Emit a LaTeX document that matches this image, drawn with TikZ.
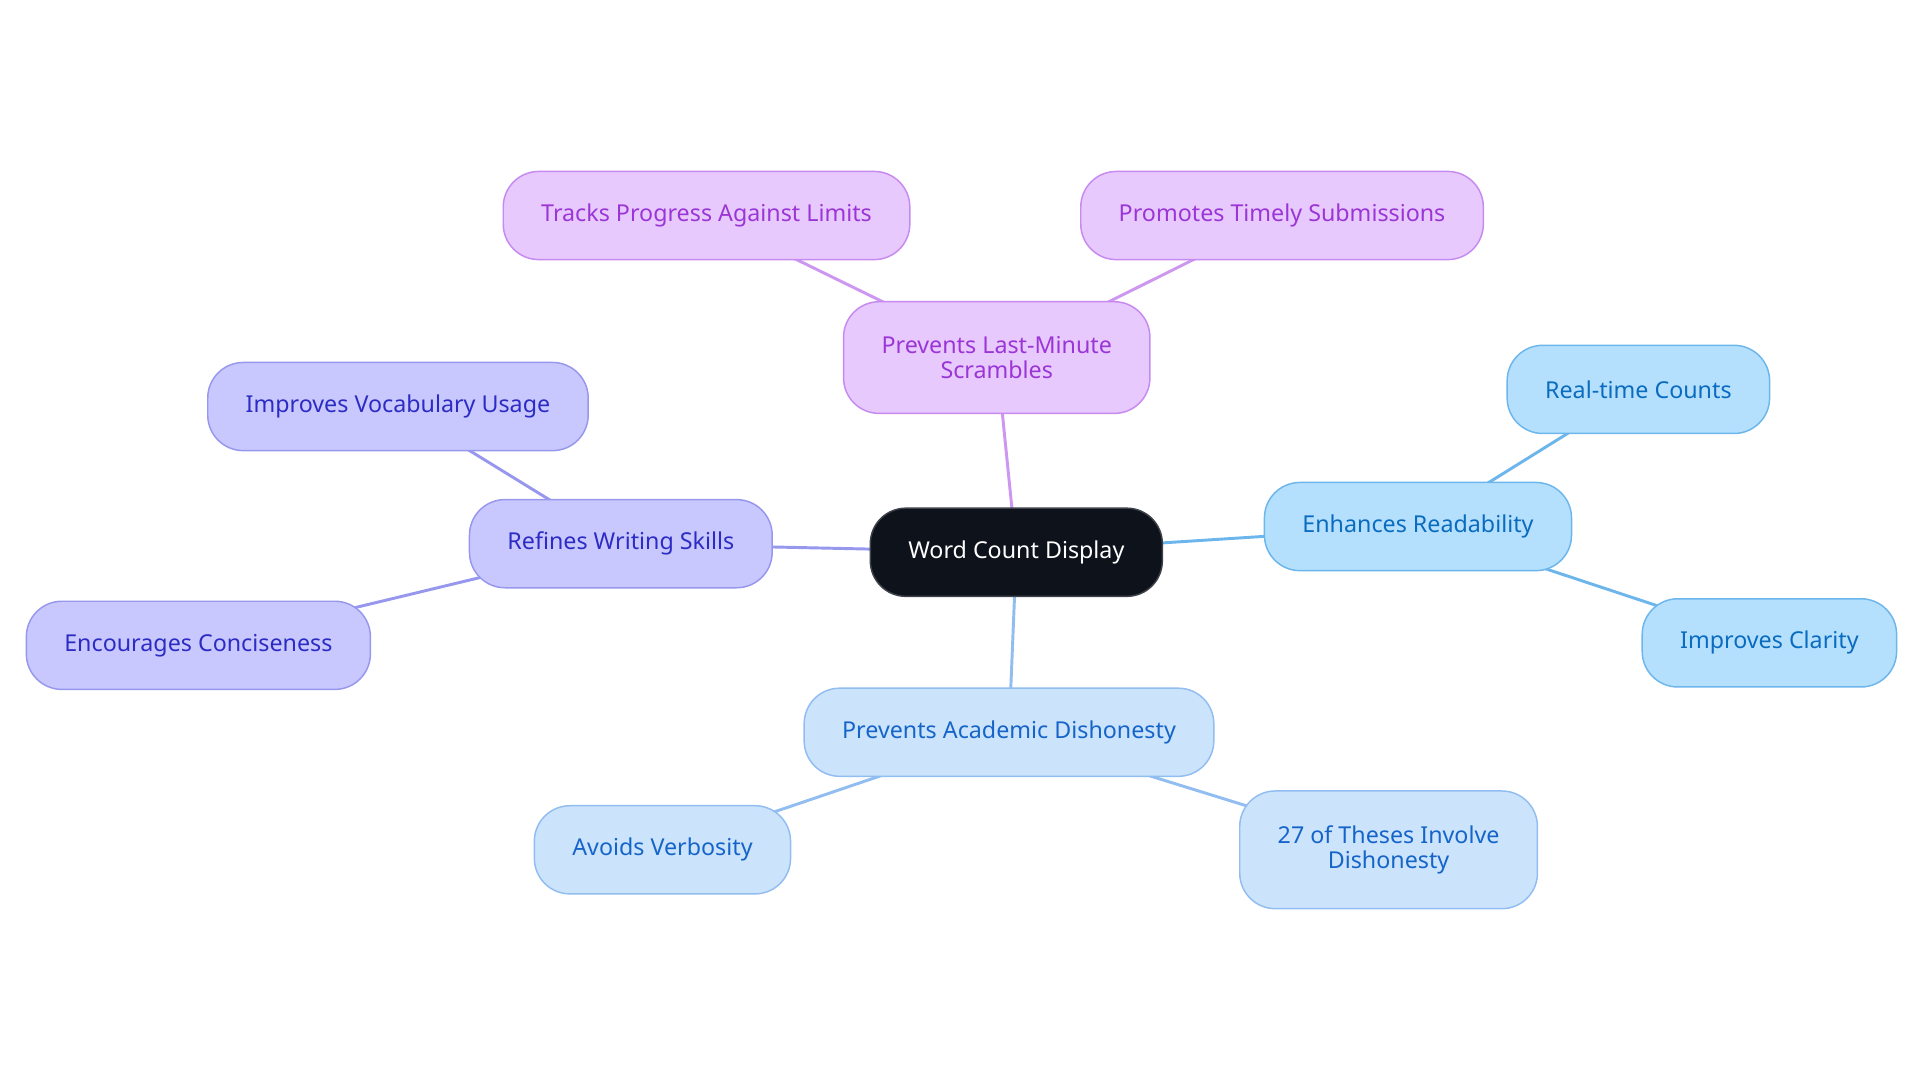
\documentclass[tikz,border=0pt]{standalone}
\usepackage{fontspec}
\setmainfont{Noto Sans}
\usepackage{tikz}
\usetikzlibrary{positioning, backgrounds}

\definecolor{lilafill}{HTML}{E7C9FE}
\definecolor{lilaline}{HTML}{C68AF0}
\definecolor{lilatext}{HTML}{9B35D6}
\definecolor{indfill}{HTML}{C8C8FE}
\definecolor{indline}{HTML}{9797EE}
\definecolor{indtext}{HTML}{2C2CC4}
\definecolor{skyfill}{HTML}{B4E0FE}
\definecolor{skyline}{HTML}{6DB6EC}
\definecolor{skytext}{HTML}{0A6BBF}
\definecolor{palefill}{HTML}{CCE3FC}
\definecolor{paleline}{HTML}{92BDF0}
\definecolor{paletext}{HTML}{1565C9}
\definecolor{rootfill}{HTML}{0D121B}

\tikzset{
  idea/.style={rectangle, rounded corners=29pt, draw, line width=1.2pt, minimum height=72pt,
    inner xsep=31pt, inner ysep=22pt, align=center, font=\fontsize{19}{21}\selectfont},
  twoline/.style={inner ysep=28pt},
  lila/.style={idea, fill=lilafill, draw=lilaline, text=lilatext},
  ind/.style={idea, fill=indfill, draw=indline, text=indtext},
  sky/.style={idea, fill=skyfill, draw=skyline, text=skytext},
  pale/.style={idea, fill=palefill, draw=paleline, text=paletext},
  link/.style={line width=2.4pt}
}

\begin{document}
\begin{tikzpicture}[x=1pt, y=-1pt, on grid]
\useasboundingbox (0,0) rectangle (1568,884.5);

% Centro
\node[idea, fill=rootfill, draw=rootfill!80!white, text=white] (wcd) at (830,451) {Word Count Display};

% Ramo viola
\node[lila, twoline, above left=159pt and 16pt of wcd] (lastmin) {Prevents Last-Minute\\Scrambles};
\node[lila, above left=116pt and 237pt of lastmin] (tracks) {Tracks Progress Against Limits};
\node[lila, above right=116pt and 233pt of lastmin] (timely) {Promotes Timely Submissions};

% Ramo azzurro
\node[sky, above right=21pt and 328pt of wcd] (readab) {Enhances Readability};
\node[sky, above right=112pt and 180pt of readab] (realtime) {Real-time Counts};
\node[sky, below right=95pt and 287pt of readab] (clarity) {Improves Clarity};

% Ramo celeste
\node[pale, below left=147pt and 6pt of wcd] (academic) {Prevents Academic Dishonesty};
\node[pale, below left=96pt and 283pt of academic] (verbose) {Avoids Verbosity};
\node[pale, twoline, below right=96pt and 310pt of academic] (theses) {27 of Theses Involve\\Dishonesty};

% Ramo indaco
\node[ind, above left=7pt and 323pt of wcd] (refines) {Refines Writing Skills};
\node[ind, above left=112pt and 182pt of refines] (vocab) {Improves Vocabulary Usage};
\node[ind, below left=83pt and 345pt of refines] (concise) {Encourages Conciseness};

% Connessioni
\begin{scope}[on background layer]
\draw[link, lilaline!90!white] (wcd.center) -- (lastmin.center);
\draw[link, lilaline!90!white] (lastmin.center) -- (tracks.center);
\draw[link, lilaline!90!white] (lastmin.center) -- (timely.center);
\draw[link, skyline] (wcd.center) -- (readab.center);
\draw[link, skyline] (readab.center) -- (realtime.center);
\draw[link, skyline] (readab.center) -- (clarity.center);
\draw[link, paleline] (wcd.center) -- (academic.center);
\draw[link, paleline] (academic.center) -- (verbose.center);
\draw[link, paleline] (academic.center) -- (theses.center);
\draw[link, indline] (wcd.center) -- (refines.center);
\draw[link, indline] (refines.center) -- (vocab.center);
\draw[link, indline] (refines.center) -- (concise.center);
\end{scope}
\end{tikzpicture}
\end{document}
